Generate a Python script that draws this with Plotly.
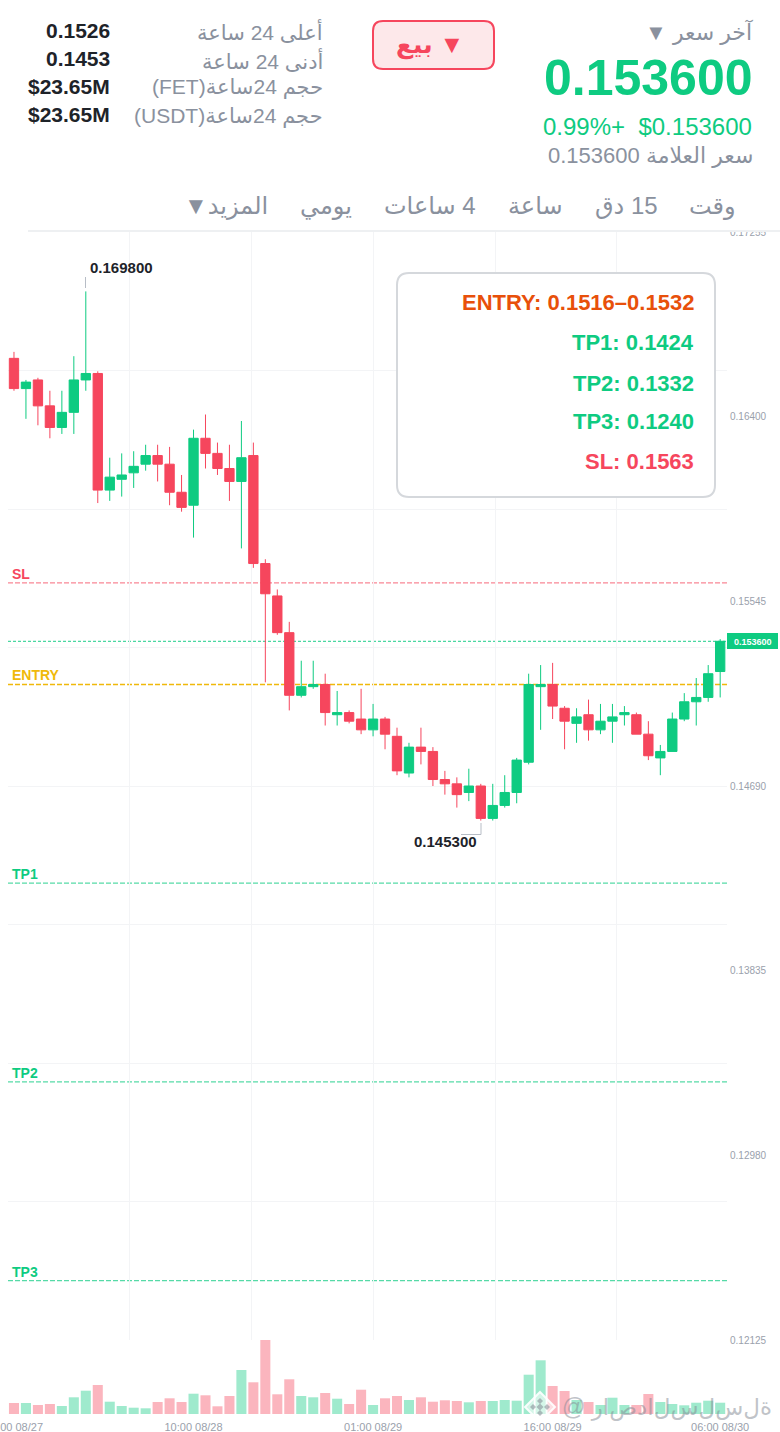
import plotly.graph_objects as go

WIDTH = 780
HEIGHT = 1432
GREEN = "#0ECB81"
RED = "#F6465D"
GRAY = "#8A919E"
DARK = "#1E2329"
GRID = "#F3F4F6"
LATIN = "Liberation Sans, Noto Sans, DejaVu Sans"

# hourly candles
opens = [
    0.1667, 0.1653, 0.1657, 0.1645, 0.1635, 0.1642, 0.1657, 0.1660, 0.1606, 0.1611,
    0.1614, 0.1618, 0.1622, 0.1618, 0.1605, 0.1599, 0.1630, 0.1623, 0.1616, 0.1610,
    0.1622, 0.1572, 0.1557, 0.1540, 0.1511, 0.1515, 0.1516, 0.1502, 0.1503, 0.1500,
    0.1495, 0.1500, 0.1492, 0.1475, 0.1487, 0.1485, 0.1472, 0.1470, 0.1466, 0.1469,
    0.1454, 0.1460, 0.1466, 0.1480, 0.1515, 0.1516, 0.1505, 0.1498, 0.1502, 0.1495,
    0.1499, 0.1502, 0.1502, 0.1493, 0.1482, 0.1485, 0.1500, 0.1508, 0.1510, 0.1522,
]
highs = [
    0.1670, 0.1657, 0.1658, 0.1652, 0.1652, 0.1668, 0.1698, 0.1661, 0.1621, 0.1623,
    0.1624, 0.1627, 0.1627, 0.1626, 0.1613, 0.1634, 0.1641, 0.1628, 0.1627, 0.1638,
    0.1628, 0.1574, 0.1560, 0.1545, 0.1527, 0.1527, 0.1521, 0.1513, 0.1504, 0.1514,
    0.1507, 0.1501, 0.1496, 0.1489, 0.1496, 0.1487, 0.1476, 0.1473, 0.1477, 0.1470,
    0.1470, 0.1474, 0.1482, 0.1521, 0.1525, 0.1526, 0.1506, 0.1505, 0.1509, 0.1507,
    0.1507, 0.1506, 0.1503, 0.1499, 0.1488, 0.1503, 0.1512, 0.1519, 0.1525, 0.1537,
]
lows = [
    0.1652, 0.1639, 0.1636, 0.1630, 0.1632, 0.1632, 0.1652, 0.1600, 0.1601, 0.1603,
    0.1607, 0.1615, 0.1610, 0.1599, 0.1596, 0.1584, 0.1616, 0.1613, 0.1601, 0.1579,
    0.1570, 0.1517, 0.1539, 0.1504, 0.1510, 0.1514, 0.1497, 0.1497, 0.1498, 0.1493,
    0.1492, 0.1486, 0.1474, 0.1473, 0.1479, 0.1469, 0.1465, 0.1459, 0.1462, 0.1453,
    0.1453, 0.1459, 0.1461, 0.1479, 0.1495, 0.1500, 0.1486, 0.1489, 0.1490, 0.1493,
    0.1489, 0.1497, 0.1493, 0.1481, 0.1474, 0.1485, 0.1499, 0.1497, 0.1508, 0.1510,
]
closes = [
    0.1653, 0.1656, 0.1645, 0.1635, 0.1642, 0.1657, 0.1660, 0.1606, 0.1612, 0.1613,
    0.1617, 0.1622, 0.1618, 0.1605, 0.1598, 0.1630, 0.1623, 0.1616, 0.1610, 0.1621,
    0.1572, 0.1558, 0.1540, 0.1511, 0.1515, 0.1516, 0.1503, 0.1503, 0.1499, 0.1495,
    0.1500, 0.1493, 0.1476, 0.1487, 0.1485, 0.1472, 0.1470, 0.1465, 0.1469, 0.1454,
    0.1460, 0.1466, 0.1481, 0.1516, 0.1516, 0.1506, 0.1499, 0.1501, 0.1495, 0.1499,
    0.1501, 0.1503, 0.1493, 0.1483, 0.1485, 0.1500, 0.1508, 0.1510, 0.1521, 0.1536,
]
volumes = [
    11, 11, 9, 10, 8, 16.7, 23.3, 29, 12.3, 8,
    6.3, 5.7, 12, 15.7, 12, 20.3, 18.7, 7.7, 18, 44,
    31.7, 74, 19.7, 34.7, 18, 16.7, 21, 15.3, 10, 24.3,
    9, 15.7, 18, 14, 16.7, 12.3, 13.7, 13, 11.7, 13,
    13, 14, 13.3, 39.3, 53.7, 28, 23, 14, 12, 9,
    16.3, 9, 9, 20, 12, 10, 8.7, 11.3, 13.3, 11.3,
]
candle_index = list(range(len(opens)))

x_tick_index = [0, 15, 30, 45, 59]
x_tick_labels = ["19:00 08/27", "10:00 08/28", "01:00 08/29", "16:00 08/29", "06:00 08/30"]
x_grid_index = [-0.5, 9.65, 19.84, 30.03, 40.2, 50.37]

price_ticks = [0.17255, 0.16400, 0.15545, 0.14690, 0.13835, 0.12980, 0.12125]
price_grid = [0.166138, 0.159725, 0.153313, 0.14690, 0.140488, 0.134075, 0.127663, 0.12125]

level_names = ["SL", "ENTRY", "TP1", "TP2", "TP3"]
level_prices = [0.1563, 0.1516, 0.1424, 0.1332, 0.1240]
level_colors = ["rgba(246,70,93,0.65)", "#F0B90B", "rgba(14,203,129,0.7)", "rgba(14,203,129,0.7)", "rgba(14,203,129,0.7)"]
label_colors = [RED, "#F0B90B", GREEN, GREEN, GREEN]
last_price = 0.1536

card_lines = ["ENTRY: 0.1516–0.1532", "TP1: 0.1424", "TP2: 0.1332", "TP3: 0.1240", "SL: 0.1563"]
card_colors = ["#E8500A", GREEN, GREEN, GREEN, RED]
card_y = [302, 342, 383.5, 421.5, 461.5]

tab_labels = ["وقت", "15 دق", "ساعة", "4 ساعات", "يومي", "المزيد▼"]
tab_x = [712, 626, 535, 430, 326, 226]

stat_labels = ["أعلى 24 ساعة", "أدنى 24 ساعة", "حجم 24ساعة(FET)", "حجم 24ساعة(USDT)"]
stat_values = ["0.1526", "0.1453", "$23.65M", "$23.65M"]
stat_y = [32, 60, 88, 116]

X_MIN, X_MAX = -0.5, 59.57


def px(x):
    return x / WIDTH


def py(y):
    return 1 - y / HEIGHT


def rtl(text):
    return "\u202b" + text + "\u202c"


def add_text(fig, x, y, text, size, color, anchor="right", bold=False, family=LATIN):
    if bold:
        text = "<b>" + text + "</b>"
    fig.add_annotation(
        x=px(x), y=py(y), xref="paper", yref="paper", text=text, showarrow=False,
        xanchor=anchor, yanchor="middle", borderpad=0,
        font=dict(size=size, color=color, family=family),
    )


def round_rect(x0, y0, x1, y1, r):
    l, r_, t, b = px(x0), px(x1), py(y0), py(y1)
    rx, ry = r / WIDTH, r / HEIGHT
    return (
        f"M {l + rx} {t} L {r_ - rx} {t} Q {r_} {t} {r_} {t - ry} L {r_} {b + ry} "
        f"Q {r_} {b} {r_ - rx} {b} L {l + rx} {b} Q {l} {b} {l} {b + ry} L {l} {t - ry} "
        f"Q {l} {t} {l + rx} {t} Z"
    )


def diamond(cx, cy, r):
    return (
        f"M {px(cx)} {py(cy - r)} L {px(cx + r)} {py(cy)} "
        f"L {px(cx)} {py(cy + r)} L {px(cx - r)} {py(cy)} Z"
    )


fig = go.Figure()

fig.add_trace(
    go.Candlestick(
        x=candle_index, open=opens, high=highs, low=lows, close=closes,
        increasing=dict(line=dict(color=GREEN, width=1), fillcolor=GREEN),
        decreasing=dict(line=dict(color=RED, width=1), fillcolor=RED),
        whiskerwidth=0, xaxis="x", yaxis="y", showlegend=False,
    )
)

bar_colors = ["rgba(14,203,129,0.4)" if c >= o else "rgba(246,70,93,0.4)" for o, c in zip(opens, closes)]
fig.add_trace(
    go.Bar(
        x=candle_index, y=volumes, marker=dict(color=bar_colors, line_width=0),
        width=0.84, xaxis="x2", yaxis="y2", showlegend=False,
    )
)

# target levels sit under the candles
for price, color in zip(level_prices, level_colors):
    fig.add_shape(
        type="line", xref="x", yref="y", x0=X_MIN, x1=X_MAX, y0=price, y1=price,
        layer="below", line=dict(color=color, width=1.3, dash="5px,2px"),
    )
fig.add_shape(
    type="line", xref="x", yref="y", x0=X_MIN, x1=X_MAX, y0=last_price, y1=last_price,
    layer="below", line=dict(color="rgba(14,203,129,0.75)", width=1.2, dash="3px,2px"),
)

for name, price, color in zip(level_names, level_prices, label_colors):
    fig.add_annotation(
        x=X_MIN, y=price, xref="x", yref="y", text=f"<b>{name}</b>", showarrow=False,
        xanchor="left", yanchor="bottom", xshift=2, yshift=-1,
        font=dict(size=14, color=color, family=LATIN),
    )

# white band that cuts off the top price label, and the rule under the tabs
fig.add_shape(type="rect", xref="paper", yref="paper", x0=0, x1=1, y0=py(230), y1=1,
              layer="above", fillcolor="white", line_width=0)
fig.add_shape(type="line", xref="paper", yref="paper", x0=px(28), x1=1, y0=py(231), y1=py(231),
              layer="above", line=dict(color="#EEF0F2", width=2))

# signal card
fig.add_shape(type="path", xref="paper", yref="paper", path=round_rect(397, 273, 715, 497, 12),
              layer="above", fillcolor="white", line=dict(color="#D5D8DC", width=2))
for text, color, y in zip(card_lines, card_colors, card_y):
    add_text(fig, 695, y, text, 22, color, bold=True)

# high / low markers
fig.add_shape(type="line", xref="paper", yref="paper", x0=px(85.5), x1=px(85.5), y0=py(277), y1=py(288),
              line=dict(color="#B7BDC6", width=1))
add_text(fig, 89, 267, "0.169800", 15, DARK, anchor="left", bold=True)
fig.add_shape(type="path", xref="paper", yref="paper",
              path=f"M {px(481)} {py(823)} L {px(481)} {py(834.5)} L {px(461)} {py(834.5)}",
              line=dict(color="#B7BDC6", width=1))
add_text(fig, 478, 841, "0.145300", 15, DARK, bold=True)

# last price tag
fig.add_shape(type="rect", xref="paper", yref="paper", x0=px(727), x1=px(778), y0=py(633), y1=py(649),
              layer="above", fillcolor=GREEN, line_width=0)
add_text(fig, 752.5, 641.5, "0.153600", 9, "white", anchor="center", bold=True)

# header
add_text(fig, 753.5, 32, rtl("آخر سعر ▼"), 22, GRAY)
add_text(fig, 753.5, 78, "0.153600", 50, GREEN, bold=True)
add_text(fig, 753, 126, rtl("$0.153600\u00a0\u00a0+0.99%"), 24, GREEN)
add_text(fig, 753.5, 156, rtl("سعر العلامة 0.153600"), 22, GRAY)

fig.add_shape(type="path", xref="paper", yref="paper", path=round_rect(373, 21, 494, 69, 10),
              layer="above", fillcolor="#FDE8EA", line=dict(color=RED, width=2))
add_text(fig, 430, 45, rtl("▼ بيع"), 25, RED, anchor="center", bold=True)

for text, value, y in zip(stat_labels, stat_values, stat_y):
    add_text(fig, 323.5, y, rtl(text), 21, GRAY)
    add_text(fig, 111, y - 1.3, value, 21, DARK, bold=True)

for text, x in zip(tab_labels, tab_x):
    add_text(fig, x, 206, rtl(text), 24, GRAY, anchor="center")

# watermark: the letters run left to right and stay unjoined
mark_text = "\u202d@ " + "\u200c".join("راصدالسلسلة") + "\u202c"
add_text(fig, 773, 1407, mark_text, 23, "rgba(130,136,146,0.5)")
fig.add_shape(type="path", xref="paper", yref="paper", path=diamond(540, 1407, 15),
              layer="above", fillcolor="rgba(255,255,255,0.55)", line=dict(color="rgba(255,255,255,0.9)", width=2))
for dx, dy, r in [(0, -6, 3), (-7, 0, 3), (7, 0, 3), (0, 0, 3.5), (0, 6, 3)]:
    fig.add_shape(type="path", xref="paper", yref="paper", path=diamond(540 + dx, 1407 + dy, r),
                  layer="above", fillcolor="rgba(130,136,146,0.55)", line_width=0)

fig.update_layout(
    width=WIDTH, height=HEIGHT,
    margin=dict(l=0, r=0, t=0, b=0),
    paper_bgcolor="white", plot_bgcolor="white",
    boxmode="overlay", boxgap=0.22, boxgroupgap=0,
    font=dict(family=LATIN),
    hovermode=False,
    xaxis=dict(
        domain=[px(8), px(727)], range=[X_MIN, X_MAX], anchor="y", automargin=False,
        showticklabels=False, showgrid=False, zeroline=False, rangeslider=dict(visible=False),
        minor=dict(tickvals=x_grid_index, showgrid=True, gridcolor=GRID, gridwidth=1, ticks=""),
    ),
    yaxis=dict(
        domain=[py(1340), py(232)], range=[price_ticks[-1], price_ticks[0]], anchor="x", side="right",
        automargin=False, tickvals=price_ticks, ticktext=[f"{v:.5f}" for v in price_ticks], ticks="",
        tickfont=dict(size=10, color="#9AA1AC", family=LATIN), ticklabeloverflow="allow",
        ticklabelstandoff=2, showgrid=False, zeroline=False,
        minor=dict(tickvals=price_grid, showgrid=True, gridcolor=GRID, gridwidth=1, ticks=""),
    ),
    xaxis2=dict(
        domain=[px(8), px(727)], matches="x", anchor="y2", automargin=False,
        tickvals=x_tick_index, ticktext=x_tick_labels, ticks="",
        tickfont=dict(size=11, color="#9AA1AC", family=LATIN), ticklabeloverflow="allow",
        ticklabelstandoff=5, showgrid=False, zeroline=False,
    ),
    yaxis2=dict(
        domain=[py(1414), py(1340)], range=[0, 74], anchor="x2", automargin=False,
        showticklabels=False, showgrid=False, zeroline=False,
    ),
)

fig.write_html(
    "out.html",
    config=dict(displayModeBar=False, staticPlot=True),
    post_script="document.body.style.margin='0';",
)
